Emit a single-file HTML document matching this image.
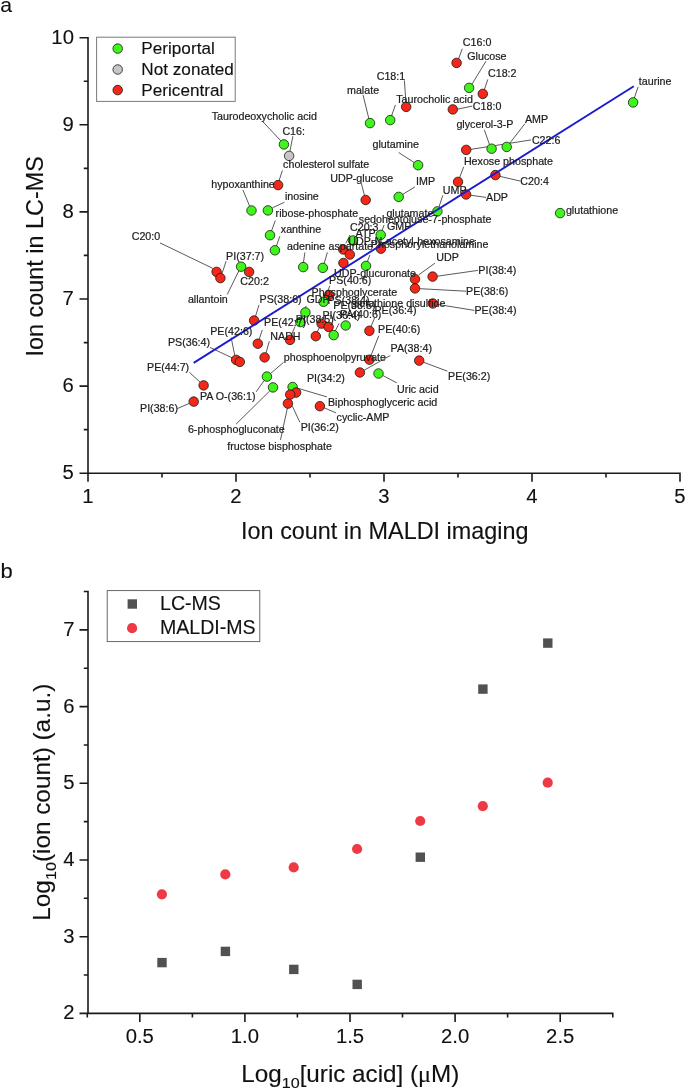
<!DOCTYPE html>
<html lang="en"><head><meta charset="utf-8"><title>Figure</title>
<style>
html,body{margin:0;padding:0;background:#fff;}
body{width:685px;height:1089px;overflow:hidden;}
svg{display:block;font-family:"Liberation Sans",sans-serif;}
.ax{stroke:#1a1a1a;stroke-width:1.6;fill:none;stroke-linecap:butt}
.ld{stroke:#303030;stroke-width:0.8;fill:none}
.lb{font-size:10.1px;fill:#1c1c1c;stroke:#1c1c1c;stroke-width:0.2}
.tk{font-size:19.5px;fill:#111;stroke:#111;stroke-width:0.12}
.tt{font-size:23px;fill:#111;stroke:#111;stroke-width:0.12}
.pt{stroke:#141c0c;stroke-width:0.8}
</style></head><body>
<svg width="685" height="1089" viewBox="0 0 685 1089">
<rect x="0" y="0" width="685" height="1089" fill="#ffffff"/>

<text font-size="20px" fill="#111" stroke="#111" stroke-width="0.12" transform="translate(0.2 11.6) scale(1.060 1)">a</text>
<text font-size="20px" fill="#111" stroke="#111" stroke-width="0.12" transform="translate(0.4 578.3) scale(1.100 1)">b</text>
<path class="ax" d="M88.0 36.9V474.0M87.2 473.2H680.8M88.0 473.2h-8.5M88.0 429.6h-4.2M88.0 386.1h-8.5M88.0 342.6h-4.2M88.0 299.0h-8.5M88.0 255.4h-4.2M88.0 211.9h-8.5M88.0 168.4h-4.2M88.0 124.8h-8.5M88.0 81.2h-4.2M88.0 37.7h-8.5M88.0 473.2v8.5M162.0 473.2v4.2M236.0 473.2v8.5M310.0 473.2v4.2M384.0 473.2v8.5M458.0 473.2v4.2M532.0 473.2v8.5M606.0 473.2v4.2M680.0 473.2v8.5"/>
<text class="tk" text-anchor="end" transform="translate(73.9 479.1) scale(1.040 1)">5</text>
<text class="tk" text-anchor="end" transform="translate(73.9 392.0) scale(1.040 1)">6</text>
<text class="tk" text-anchor="end" transform="translate(73.9 304.9) scale(1.040 1)">7</text>
<text class="tk" text-anchor="end" transform="translate(73.9 217.8) scale(1.040 1)">8</text>
<text class="tk" text-anchor="end" transform="translate(73.9 130.7) scale(1.040 1)">9</text>
<text class="tk" text-anchor="end" transform="translate(73.9 43.6) scale(1.040 1)">10</text>
<text class="tk" text-anchor="middle" transform="translate(88.0 503.1) scale(1.040 1)">1</text>
<text class="tk" text-anchor="middle" transform="translate(236.0 503.1) scale(1.040 1)">2</text>
<text class="tk" text-anchor="middle" transform="translate(384.0 503.1) scale(1.040 1)">3</text>
<text class="tk" text-anchor="middle" transform="translate(532.0 503.1) scale(1.040 1)">4</text>
<text class="tk" text-anchor="middle" transform="translate(680.0 503.1) scale(1.040 1)">5</text>
<text class="tt" text-anchor="middle" transform="translate(384.8 539.2) scale(1.018 1)">Ion count in MALDI imaging</text>
<text class="tt" text-anchor="middle" transform="translate(42.7 256.3) rotate(-90) scale(1.018 1)">Ion count in LC-MS</text>
<path class="ld" d="M262.4 121.2L281.0 141.0M292.9 136.2L289.9 151.2M282.4 170.4L278.9 181.1M242.9 189.9L249.7 206.3M284.4 202.3L272.4 207.8M275.3 220.5L271.5 231.0M279.8 236.2L276.4 246.2M304.9 252.4L303.4 262.8M327.4 252.4L324.0 263.8M462.3 48.7L458.6 58.7M486.0 61.2L471.8 84.4M487.8 79.4L484.3 89.9M404.4 80.4L405.9 102.4M363.0 94.9L368.9 118.8M395.4 104.9L391.5 116.0M472.3 106.1L457.3 109.2M484.3 129.8L489.5 144.6M524.9 123.7L509.6 143.4M531.1 139.9L470.7 149.4M463.7 166.8L459.5 177.8M520.4 181.1L499.7 176.3M486.0 197.4L470.4 195.2M442.8 195.4L438.9 207.2M638.1 86.9L634.3 98.0M398.7 152.5L414.4 162.7M361.2 182.9L364.5 195.6M414.9 186.9L402.7 194.4M384.1 225.0L381.6 231.6M350.0 235.0L345.8 243.3M369.9 255.0L367.4 261.6M434.9 263.2L418.7 274.9M477.9 270.4L437.4 276.2M466.1 291.2L420.0 288.7M474.4 310.4L437.4 304.4M160.0 242.9L212.9 268.4M226.1 261.2L222.0 273.6M227.3 294.4L238.8 270.9M259.0 304.9L255.6 316.1M262.3 330.0L259.2 339.2M269.3 341.2L266.0 353.0M209.9 347.4L232.3 357.9M231.1 337.4L234.8 355.5M189.4 372.4L200.4 382.4M177.4 408.6L189.4 403.3M283.5 362.4L270.5 373.6M236.1 424.1L269.8 390.9M256.1 391.9L264.2 380.4M326.9 396.9L297.0 388.0M292.4 406.2L299.9 422.4M287.4 408.0L280.5 439.9M336.1 412.9L324.4 407.9M390.3 355.5L364.0 370.3M396.8 382.9L383.0 375.6M447.4 371.2L423.7 362.3M378.8 335.7L371.0 355.5M374.6 318.0L371.0 326.5M329.9 285.8L327.4 291.6M319.9 326.6L316.6 333.2M339.1 323.3L334.9 331.6M295.0 326.6L290.8 336.6M306.3 305.8L304.1 309.9"/>
<circle class="pt" cx="283.9" cy="144.4" r="4.75" fill="#3ff51c"/>
<circle class="pt" cx="289.1" cy="155.9" r="4.75" fill="#c6c6c6"/>
<circle class="pt" cx="278.1" cy="185.1" r="4.75" fill="#f6261a"/>
<circle class="pt" cx="251.5" cy="210.5" r="4.75" fill="#3ff51c"/>
<circle class="pt" cx="267.9" cy="210.4" r="4.75" fill="#3ff51c"/>
<circle class="pt" cx="270.0" cy="235.2" r="4.75" fill="#3ff51c"/>
<circle class="pt" cx="274.9" cy="250.3" r="4.75" fill="#3ff51c"/>
<circle class="pt" cx="303.2" cy="267.1" r="4.75" fill="#3ff51c"/>
<circle class="pt" cx="322.8" cy="267.9" r="4.75" fill="#3ff51c"/>
<circle class="pt" cx="456.6" cy="62.9" r="4.75" fill="#f6261a"/>
<circle class="pt" cx="469.1" cy="87.9" r="4.75" fill="#3ff51c"/>
<circle class="pt" cx="482.8" cy="93.9" r="4.75" fill="#f6261a"/>
<circle class="pt" cx="452.8" cy="109.4" r="4.75" fill="#f6261a"/>
<circle class="pt" cx="406.2" cy="106.9" r="4.75" fill="#f6261a"/>
<circle class="pt" cx="370.0" cy="123.1" r="4.75" fill="#3ff51c"/>
<circle class="pt" cx="390.2" cy="120.1" r="4.75" fill="#3ff51c"/>
<circle class="pt" cx="466.2" cy="149.9" r="4.75" fill="#f6261a"/>
<circle class="pt" cx="491.6" cy="148.7" r="4.75" fill="#3ff51c"/>
<circle class="pt" cx="506.7" cy="146.9" r="4.75" fill="#3ff51c"/>
<circle class="pt" cx="633.1" cy="102.4" r="4.75" fill="#3ff51c"/>
<circle class="pt" cx="418.1" cy="165.2" r="4.75" fill="#3ff51c"/>
<circle class="pt" cx="365.7" cy="200.0" r="4.75" fill="#f6261a"/>
<circle class="pt" cx="398.7" cy="196.9" r="4.75" fill="#3ff51c"/>
<circle class="pt" cx="437.4" cy="211.4" r="4.75" fill="#3ff51c"/>
<circle class="pt" cx="458.0" cy="181.9" r="4.75" fill="#f6261a"/>
<circle class="pt" cx="466.1" cy="194.5" r="4.75" fill="#f6261a"/>
<circle class="pt" cx="495.4" cy="175.1" r="4.75" fill="#f6261a"/>
<circle class="pt" cx="560.1" cy="213.1" r="4.75" fill="#3ff51c"/>
<circle class="pt" cx="380.7" cy="234.9" r="4.75" fill="#3ff51c"/>
<circle class="pt" cx="353.0" cy="240.5" r="4.75" fill="#3ff51c"/>
<circle class="pt" cx="380.9" cy="248.7" r="4.75" fill="#f6261a"/>
<circle class="pt" cx="343.3" cy="249.5" r="4.75" fill="#f6261a"/>
<circle class="pt" cx="349.8" cy="254.6" r="4.75" fill="#f6261a"/>
<circle class="pt" cx="343.4" cy="263.0" r="4.75" fill="#f6261a"/>
<circle class="pt" cx="366.0" cy="265.9" r="4.75" fill="#3ff51c"/>
<circle class="pt" cx="415.0" cy="279.1" r="4.75" fill="#f6261a"/>
<circle class="pt" cx="432.6" cy="276.6" r="4.75" fill="#f6261a"/>
<circle class="pt" cx="415.0" cy="288.4" r="4.75" fill="#f6261a"/>
<circle class="pt" cx="432.8" cy="303.5" r="4.75" fill="#f6261a"/>
<circle class="pt" cx="216.6" cy="271.9" r="4.75" fill="#f6261a"/>
<circle class="pt" cx="220.4" cy="278.1" r="4.75" fill="#f6261a"/>
<circle class="pt" cx="241.1" cy="266.7" r="4.75" fill="#3ff51c"/>
<circle class="pt" cx="249.1" cy="271.9" r="4.75" fill="#f6261a"/>
<circle class="pt" cx="254.1" cy="320.5" r="4.75" fill="#f6261a"/>
<circle class="pt" cx="329.1" cy="295.0" r="4.75" fill="#f6261a"/>
<circle class="pt" cx="323.5" cy="301.8" r="4.75" fill="#3ff51c"/>
<circle class="pt" cx="305.4" cy="312.4" r="4.75" fill="#3ff51c"/>
<circle class="pt" cx="300.3" cy="322.1" r="4.75" fill="#3ff51c"/>
<circle class="pt" cx="321.6" cy="323.6" r="4.75" fill="#f6261a"/>
<circle class="pt" cx="328.6" cy="326.9" r="4.75" fill="#f6261a"/>
<circle class="pt" cx="345.7" cy="325.5" r="4.75" fill="#3ff51c"/>
<circle class="pt" cx="333.7" cy="335.1" r="4.75" fill="#3ff51c"/>
<circle class="pt" cx="315.8" cy="336.2" r="4.75" fill="#f6261a"/>
<circle class="pt" cx="290.0" cy="339.9" r="4.75" fill="#f6261a"/>
<circle class="pt" cx="369.4" cy="330.8" r="4.75" fill="#f6261a"/>
<circle class="pt" cx="369.5" cy="359.7" r="4.75" fill="#f6261a"/>
<circle class="pt" cx="257.8" cy="343.7" r="4.75" fill="#f6261a"/>
<circle class="pt" cx="264.6" cy="357.4" r="4.75" fill="#f6261a"/>
<circle class="pt" cx="236.1" cy="359.9" r="4.75" fill="#f6261a"/>
<circle class="pt" cx="239.8" cy="361.9" r="4.75" fill="#f6261a"/>
<circle class="pt" cx="203.6" cy="385.4" r="4.75" fill="#f6261a"/>
<circle class="pt" cx="193.7" cy="401.6" r="4.75" fill="#f6261a"/>
<circle class="pt" cx="266.9" cy="376.6" r="4.75" fill="#3ff51c"/>
<circle class="pt" cx="273.0" cy="387.4" r="4.75" fill="#3ff51c"/>
<circle class="pt" cx="292.6" cy="387.0" r="4.75" fill="#3ff51c"/>
<circle class="pt" cx="296.1" cy="392.6" r="4.75" fill="#f6261a"/>
<circle class="pt" cx="290.2" cy="394.6" r="4.75" fill="#f6261a"/>
<circle class="pt" cx="287.9" cy="403.6" r="4.75" fill="#f6261a"/>
<circle class="pt" cx="319.9" cy="406.2" r="4.75" fill="#f6261a"/>
<circle class="pt" cx="359.9" cy="372.5" r="4.75" fill="#f6261a"/>
<circle class="pt" cx="378.5" cy="373.5" r="4.75" fill="#3ff51c"/>
<circle class="pt" cx="419.2" cy="360.6" r="4.75" fill="#f6261a"/>
<line x1="193.7" y1="362.9" x2="633.8" y2="86.2" stroke="#1a1ad0" stroke-width="1.9"/>
<text class="lb" transform="translate(211.7 119.9) scale(1.060 1)">Taurodeoxycholic acid</text>
<text class="lb" transform="translate(282.4 135.4) scale(1.060 1)">C16:</text>
<text class="lb" transform="translate(283.1 167.8) scale(1.060 1)">cholesterol sulfate</text>
<text class="lb" transform="translate(211.2 187.8) scale(1.060 1)">hypoxanthine</text>
<text class="lb" transform="translate(284.9 199.7) scale(1.060 1)">inosine</text>
<text class="lb" transform="translate(275.6 217.2) scale(1.060 1)">ribose-phosphate</text>
<text class="lb" transform="translate(280.8 232.5) scale(1.060 1)">xanthine</text>
<text class="lb" transform="translate(287.1 249.5) scale(1.060 1)">adenine</text>
<text class="lb" transform="translate(328.5 249.7) scale(1.060 1)">aspartate</text>
<text class="lb" transform="translate(462.8 45.9) scale(1.060 1)">C16:0</text>
<text class="lb" transform="translate(467.3 59.6) scale(1.060 1)">Glucose</text>
<text class="lb" transform="translate(488.0 77.4) scale(1.060 1)">C18:2</text>
<text class="lb" transform="translate(376.7 79.6) scale(1.060 1)">C18:1</text>
<text class="lb" transform="translate(347.0 93.5) scale(1.060 1)">malate</text>
<text class="lb" transform="translate(396.2 102.8) scale(1.060 1)">Taurocholic acid</text>
<text class="lb" transform="translate(472.8 109.5) scale(1.060 1)">C18:0</text>
<text class="lb" transform="translate(456.4 128.2) scale(1.060 1)">glycerol-3-P</text>
<text class="lb" transform="translate(524.9 123.3) scale(1.060 1)">AMP</text>
<text class="lb" transform="translate(531.9 143.5) scale(1.060 1)">C22:6</text>
<text class="lb" transform="translate(463.9 164.6) scale(1.060 1)">Hexose phosphate</text>
<text class="lb" transform="translate(520.3 184.9) scale(1.060 1)">C20:4</text>
<text class="lb" transform="translate(442.8 193.6) scale(1.060 1)">UMP</text>
<text class="lb" transform="translate(486.0 201.1) scale(1.060 1)">ADP</text>
<text class="lb" transform="translate(638.8 85.4) scale(1.060 1)">taurine</text>
<text class="lb" transform="translate(372.5 147.8) scale(1.060 1)">glutamine</text>
<text class="lb" text-anchor="end" transform="translate(393.2 181.6) scale(1.060 1)">UDP-glucose</text>
<text class="lb" transform="translate(416.1 184.6) scale(1.060 1)">IMP</text>
<text class="lb" transform="translate(565.9 213.6) scale(1.060 1)">glutathione</text>
<text class="lb" transform="translate(386.4 216.6) scale(1.060 1)">glutamate</text>
<text class="lb" transform="translate(358.8 222.7) scale(1.060 1)">sedoheptoluse-7-phosphate</text>
<text class="lb" transform="translate(350.0 231.1) scale(1.060 1)">C20:3</text>
<text class="lb" transform="translate(387.0 230.4) scale(1.060 1)">GMP</text>
<text class="lb" transform="translate(355.6 237.2) scale(1.060 1)">ATP</text>
<text class="lb" text-anchor="end" transform="translate(474.9 244.6) scale(1.060 1)">UDP-N-acetyl-hexosamine</text>
<text class="lb" text-anchor="end" transform="translate(488.5 248.2) scale(1.060 1)">Phosphorylethanolamine</text>
<text class="lb" transform="translate(436.2 261.1) scale(1.060 1)">UDP</text>
<text class="lb" text-anchor="end" transform="translate(416.0 277.0) scale(1.060 1)">UDP-glucuronate</text>
<text class="lb" transform="translate(329.1 284.1) scale(1.060 1)">PS(40:6)</text>
<text class="lb" transform="translate(311.6 295.6) scale(1.060 1)">Phosphoglycerate</text>
<text class="lb" transform="translate(478.3 273.9) scale(1.060 1)">PI(38:4)</text>
<text class="lb" transform="translate(466.1 294.6) scale(1.060 1)">PE(38:6)</text>
<text class="lb" transform="translate(474.4 314.0) scale(1.060 1)">PE(38:4)</text>
<text class="lb" text-anchor="end" transform="translate(445.4 307.0) scale(1.060 1)">glutathione disulfide</text>
<text class="lb" text-anchor="end" transform="translate(416.6 313.8) scale(1.060 1)">PE(36:4)</text>
<text class="lb" text-anchor="end" transform="translate(420.2 333.4) scale(1.060 1)">PE(40:6)</text>
<text class="lb" transform="translate(390.6 352.4) scale(1.060 1)">PA(38:4)</text>
<text class="lb" transform="translate(131.7 240.4) scale(1.060 1)">C20:0</text>
<text class="lb" transform="translate(226.1 260.4) scale(1.060 1)">PI(37:7)</text>
<text class="lb" transform="translate(240.3 284.9) scale(1.060 1)">C20:2</text>
<text class="lb" transform="translate(187.9 303.2) scale(1.060 1)">allantoin</text>
<text class="lb" transform="translate(259.5 303.0) scale(1.060 1)">PS(38:6)</text>
<text class="lb" transform="translate(306.4 303.4) scale(1.060 1)">GDP</text>
<text class="lb" transform="translate(327.4 303.9) scale(1.060 1)">PS(38:4)</text>
<text class="lb" transform="translate(333.3 308.7) scale(1.060 1)">PE(38:5)</text>
<text class="lb" transform="translate(295.8 322.8) scale(1.060 1)">PI(38:5)</text>
<text class="lb" transform="translate(322.4 319.4) scale(1.060 1)">PI(36:4)</text>
<text class="lb" transform="translate(340.0 317.8) scale(1.060 1)">PA(40:6)</text>
<text class="lb" transform="translate(264.0 326.1) scale(1.060 1)">PE(42:7)</text>
<text class="lb" transform="translate(210.2 335.4) scale(1.060 1)">PE(42:6)</text>
<text class="lb" transform="translate(270.3 340.2) scale(1.060 1)">NADH</text>
<text class="lb" transform="translate(167.9 346.1) scale(1.060 1)">PS(36:4)</text>
<text class="lb" transform="translate(283.8 361.4) scale(1.060 1)">phosphoenolpyruvate</text>
<text class="lb" transform="translate(147.0 371.0) scale(1.060 1)">PE(44:7)</text>
<text class="lb" transform="translate(306.9 381.6) scale(1.060 1)">PI(34:2)</text>
<text class="lb" transform="translate(199.9 400.3) scale(1.060 1)">PA O-(36:1)</text>
<text class="lb" transform="translate(140.0 412.0) scale(1.060 1)">PI(38:6)</text>
<text class="lb" transform="translate(397.1 392.8) scale(1.060 1)">Uric acid</text>
<text class="lb" transform="translate(448.1 380.4) scale(1.060 1)">PE(36:2)</text>
<text class="lb" transform="translate(327.9 406.0) scale(1.060 1)">Biphosphoglyceric acid</text>
<text class="lb" transform="translate(336.6 421.4) scale(1.060 1)">cyclic-AMP</text>
<text class="lb" transform="translate(300.7 431.4) scale(1.060 1)">PI(36:2)</text>
<text class="lb" transform="translate(187.9 432.6) scale(1.060 1)">6-phosphogluconate</text>
<text class="lb" text-anchor="end" transform="translate(331.9 449.7) scale(1.060 1)">fructose bisphosphate</text>
<rect x="96.6" y="37.2" width="138.6" height="64.2" fill="#fff" stroke="#7a7a7a" stroke-width="1"/>
<circle class="pt" cx="117.7" cy="48.6" r="4.75" fill="#3ff51c"/>
<text font-size="16.2px" fill="#111" stroke="#111" stroke-width="0.12" transform="translate(141.3 54.2) scale(1.060 1)">Periportal</text>
<circle class="pt" cx="117.7" cy="69.5" r="4.75" fill="#c6c6c6"/>
<text font-size="16.2px" fill="#111" stroke="#111" stroke-width="0.12" transform="translate(141.3 74.9) scale(1.060 1)">Not zonated</text>
<circle class="pt" cx="117.7" cy="90.1" r="4.75" fill="#f6261a"/>
<text font-size="16.2px" fill="#111" stroke="#111" stroke-width="0.12" transform="translate(141.3 95.6) scale(1.060 1)">Pericentral</text>
<path class="ax" d="M88.0 590.8V1014.2M87.2 1013.4H613.5M88.0 1013.4h-8.5M88.0 975.0h-4.2M88.0 936.7h-8.5M88.0 898.3h-4.2M88.0 860.0h-8.5M88.0 821.6h-4.2M88.0 783.3h-8.5M88.0 745.0h-4.2M88.0 706.6h-8.5M88.0 668.2h-4.2M88.0 629.9h-8.5M88.0 591.5h-4.2M87.3 1013.4v4.2M139.8 1013.4v8.5M192.4 1013.4v4.2M244.9 1013.4v8.5M297.4 1013.4v4.2M350.0 1013.4v8.5M402.5 1013.4v4.2M455.1 1013.4v8.5M507.6 1013.4v4.2M560.2 1013.4v8.5M612.8 1013.4v4.2"/>
<text class="tk" text-anchor="end" transform="translate(74.6 1019.3) scale(1.040 1)">2</text>
<text class="tk" text-anchor="end" transform="translate(74.6 942.6) scale(1.040 1)">3</text>
<text class="tk" text-anchor="end" transform="translate(74.6 865.9) scale(1.040 1)">4</text>
<text class="tk" text-anchor="end" transform="translate(74.6 789.2) scale(1.040 1)">5</text>
<text class="tk" text-anchor="end" transform="translate(74.6 712.5) scale(1.040 1)">6</text>
<text class="tk" text-anchor="end" transform="translate(74.6 635.8) scale(1.040 1)">7</text>
<text class="tk" text-anchor="middle" transform="translate(139.8 1042.8) scale(1.040 1)">0.5</text>
<text class="tk" text-anchor="middle" transform="translate(244.9 1042.8) scale(1.040 1)">1.0</text>
<text class="tk" text-anchor="middle" transform="translate(350.0 1042.8) scale(1.040 1)">1.5</text>
<text class="tk" text-anchor="middle" transform="translate(455.1 1042.8) scale(1.040 1)">2.0</text>
<text class="tk" text-anchor="middle" transform="translate(560.2 1042.8) scale(1.040 1)">2.5</text>
<text class="tt" text-anchor="middle" transform="translate(350.3 1081.5) scale(1.054 1)">Log<tspan font-size="15.3px" dy="6.5">10</tspan><tspan dy="-6.5">[uric acid] (</tspan><tspan font-family="'Liberation Serif',serif">μ</tspan>M)</text>
<text class="tt" text-anchor="middle" transform="translate(49.8 802.2) rotate(-90) scale(1.058 1)">Log<tspan font-size="15.3px" dy="6.5">10</tspan><tspan dy="-6.5">(ion count) (a.u.)</tspan></text>
<rect x="157.3" y="957.9" width="9.4" height="9.4" fill="#515151"/>
<rect x="220.7" y="946.7" width="9.4" height="9.4" fill="#515151"/>
<rect x="289.1" y="964.7" width="9.4" height="9.4" fill="#515151"/>
<rect x="352.5" y="979.7" width="9.4" height="9.4" fill="#515151"/>
<rect x="415.6" y="852.5" width="9.4" height="9.4" fill="#515151"/>
<rect x="478.2" y="684.4" width="9.4" height="9.4" fill="#515151"/>
<rect x="543.1" y="638.4" width="9.4" height="9.4" fill="#515151"/>
<circle cx="161.9" cy="894.3" r="5.1" fill="#ee3a44"/>
<circle cx="225.3" cy="874.4" r="5.1" fill="#ee3a44"/>
<circle cx="293.7" cy="867.4" r="5.1" fill="#ee3a44"/>
<circle cx="357.1" cy="849.0" r="5.1" fill="#ee3a44"/>
<circle cx="420.2" cy="821.0" r="5.1" fill="#ee3a44"/>
<circle cx="482.8" cy="806.2" r="5.1" fill="#ee3a44"/>
<circle cx="547.7" cy="782.7" r="5.1" fill="#ee3a44"/>
<rect x="107.2" y="590.6" width="152.6" height="51" fill="#fff" stroke="#5a5a5a" stroke-width="0.9"/>
<rect x="127.6" y="599.3" width="9.4" height="9.4" fill="#515151"/>
<circle cx="132.1" cy="628.2" r="5.1" fill="#ee3a44"/>
<text font-size="19.35px" fill="#111" stroke="#111" stroke-width="0.12" transform="translate(160.0 610.4) scale(1.012 1)">LC-MS</text>
<text font-size="19.35px" fill="#111" stroke="#111" stroke-width="0.12" transform="translate(160.0 634.3) scale(1.012 1)">MALDI-MS</text>
</svg></body></html>
